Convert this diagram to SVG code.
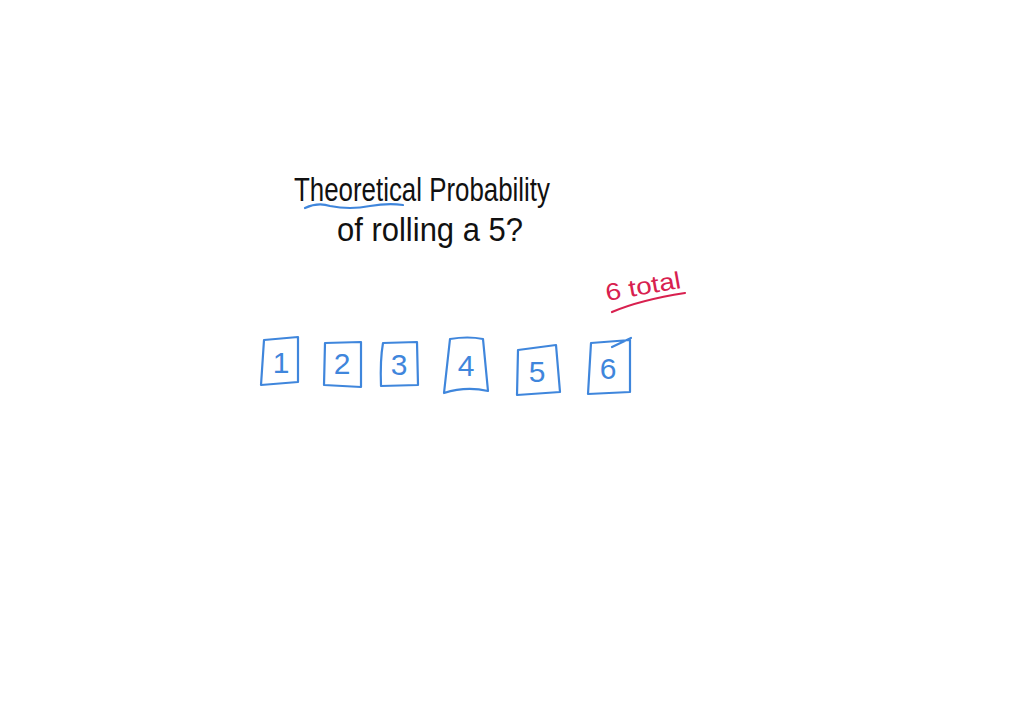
<svg xmlns="http://www.w3.org/2000/svg" width="1024" height="712" viewBox="0 0 1024 712">
<style>
.hw{font-family:"Liberation Sans","DejaVu Sans",sans-serif;}
.ttl{fill:#111;font-size:33px;}
.box{fill:none;stroke:#3f86dc;stroke-width:2.2;stroke-linecap:round;stroke-linejoin:round;}
.num{fill:#3f86dc;font-size:30px;text-anchor:middle;}
.red{fill:#d8204f;font-size:24px;}
.redl{fill:none;stroke:#d8204f;stroke-width:2.2;stroke-linecap:round;}
.bl{fill:none;stroke:#3f86dc;stroke-width:2.2;stroke-linecap:round;}
</style>
<rect width="1024" height="712" fill="#ffffff"/>
<g id="title">
<text class="hw ttl" x="294" y="201" textLength="256" lengthAdjust="spacingAndGlyphs">Theoretical Probability</text>
<path class="bl" d="M305 208 Q318 202 330 206 Q350 210 370 206 Q388 203 403 205"/>
<text class="hw ttl" x="337" y="241" textLength="186" lengthAdjust="spacingAndGlyphs">of rolling a 5?</text>
</g>
<g id="total">
<text class="hw red" x="607" y="301" transform="rotate(-10 607 301)" textLength="76" lengthAdjust="spacingAndGlyphs">6 total</text>
<path class="redl" d="M612 312 Q640 300 685 293"/>
</g>
<g id="die1">
<path class="box" d="M264 340 L298 337 L298 382 L261 385 Z"/>
<text class="hw num" x="281" y="373">1</text>
</g>
<g id="die2">
<path class="box" d="M325 343 L361 342 L361 387 L324 385 Z"/>
<text class="hw num" x="342" y="374">2</text>
</g>
<g id="die3">
<path class="box" d="M383 343 L417 342 L418 385 L381 386 Q380 360 383 343 Z"/>
<text class="hw num" x="399" y="375">3</text>
</g>
<g id="die4">
<path class="box" d="M450 339 Q468 336 483 339 L488 391 Q466 386 444 393 Z"/>
<text class="hw num" x="466" y="376">4</text>
</g>
<g id="die5">
<path class="box" d="M518 350 L556 345 L560 392 L517 395 Z"/>
<text class="hw num" x="537" y="382">5</text>
</g>
<g id="die6">
<path class="box" d="M591 343 L630 340 L630 392 L588 394 Z M612 347 L631 338"/>
<text class="hw num" x="608" y="379">6</text>
</g>
</svg>
